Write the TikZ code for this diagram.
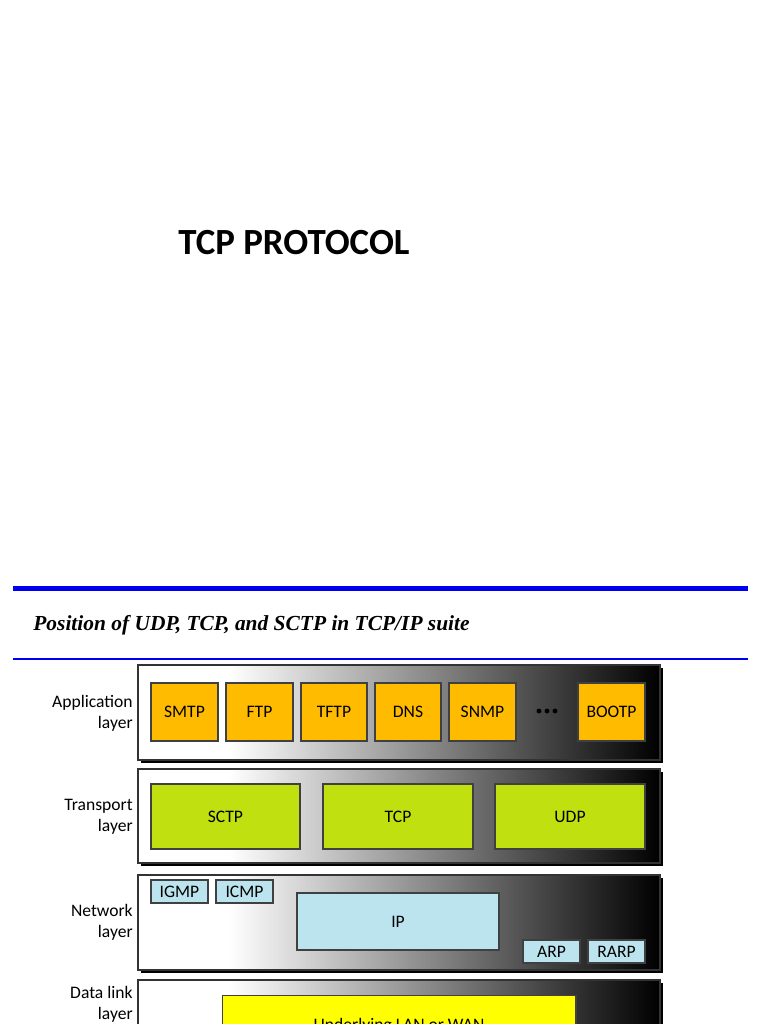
\documentclass[tikz,border=0pt]{standalone}
\usepackage{fontspec}
\setmainfont{Carlito}
\newfontfamily\serifbi{Liberation Serif}
\definecolor{orangebox}{RGB}{255,187,0}
\definecolor{greenbox}{RGB}{192,224,16}
\definecolor{bluebox}{RGB}{188,228,238}
\definecolor{yellowbox}{RGB}{255,255,0}
\definecolor{barblue}{RGB}{0,0,240}
\begin{document}
\begin{tikzpicture}[x=0.02cm,y=-0.02cm,
  proto/.style={draw=black!75,line width=0.6pt,font=\fontsize{10}{12}\selectfont,inner sep=0pt},
  lbl/.style={anchor=east,align=right,inner sep=0pt,font=\fontsize{10}{12}\selectfont}]
\useasboundingbox (0,0) rectangle (768,1024);
\clip (0,0) rectangle (768,1024);
\node[font=\bfseries\fontsize{21}{24}\selectfont] (title) at (294,243) {TCP PROTOCOL};
\fill[barblue] (13,586) rectangle (748,591);
\node[anchor=west,inner sep=0pt,font=\serifbi\bfseries\itshape\fontsize{12.2}{14}\selectfont] (sub) at (33,625) {Position of UDP, TCP, and SCTP in TCP/IP suite};
\draw[barblue,line width=0.7pt] (13,659) -- (748,659);
% layers
\foreach \t/\b in {665/760,769/863,875/970,980/1080}{
  \fill[black] (141,\t+3) rectangle (663,\b+3);
  \fill[white] (138,\t) rectangle (230,\b);
  \shade[left color=white,right color=black] (229,\t) rectangle (660,\b);
  \draw[black!80,line width=0.6pt] (138,\t) rectangle (660,\b);
}
\node[lbl] (la) at (133,713) {Application\\layer};
\node[lbl] (lt) at (133,817) {Transport\\layer};
\node[lbl] (ln) at (133,922) {Network\\layer};
\node[lbl] (ld) at (133,1004) {Data link\\layer};
% application
\foreach \a/\b in {151/218,226/293,301/367,375/441,449/516,578/645}{
  \fill[orangebox] (\a,683) rectangle (\b,741);
  \draw[black!75,line width=0.6pt] (\a,683) rectangle (\b,741);
}
\node[font=\fontsize{10}{12}\selectfont] (smtp) at (184.5,712) {SMTP};
\node[font=\fontsize{10}{12}\selectfont] (ftp) at (259.5,712) {FTP};
\node[font=\fontsize{10}{12}\selectfont] (tftp) at (334,712) {TFTP};
\node[font=\fontsize{10}{12}\selectfont] (dns) at (408,712) {DNS};
\node[font=\fontsize{10}{12}\selectfont] (snmp) at (482.5,712) {SNMP};
\node (dots) at (547,711) {};
\foreach \dx in {-8,0,8} \fill[black] ([xshift=\dx*0.02cm]dots.center) circle (1.4pt);
\node[font=\fontsize{10}{12}\selectfont] (bootp) at (611.5,712) {BOOTP};
% transport
\node[proto,fill=greenbox,minimum width=2.98cm,minimum height=1.3cm] (sctp) at (225.5,816.5) {SCTP};
\node[proto,fill=greenbox,minimum width=3cm,minimum height=1.3cm] (tcp) at (398,816.5) {TCP};
\node[proto,fill=greenbox,minimum width=3cm,minimum height=1.3cm] (udp) at (570,816.5) {UDP};
% network
\node[proto,fill=bluebox,minimum width=1.14cm,minimum height=0.46cm] (igmp) at (179.5,891.5) {IGMP};
\node[proto,fill=bluebox,minimum width=1.14cm,minimum height=0.46cm] (icmp) at (244.5,891.5) {ICMP};
\node[proto,fill=bluebox,minimum width=4.04cm,minimum height=1.14cm] (ip) at (398,921.5) {IP};
\node[proto,fill=bluebox,minimum width=1.14cm,minimum height=0.46cm] (arp) at (551.5,951.5) {ARP};
\node[proto,fill=bluebox,minimum width=1.14cm,minimum height=0.46cm] (rarp) at (616.5,951.5) {RARP};
% data link
\node[proto,fill=yellowbox,minimum width=7.08cm,minimum height=1.2cm,anchor=north] (lan) at (399,995) {};
\node[font=\fontsize{10}{12}\selectfont,anchor=base] (lantext) at (399,1030) {Underlying LAN or WAN};
\end{tikzpicture}
\end{document}
